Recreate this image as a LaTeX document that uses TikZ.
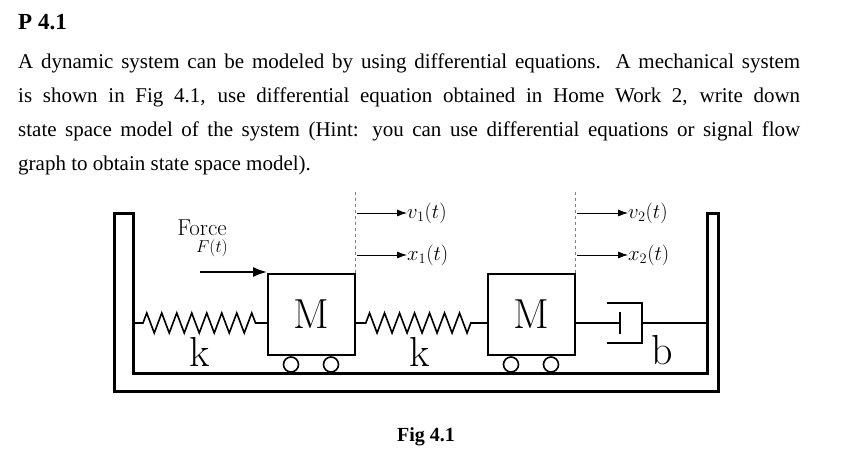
\documentclass[tikz,border=0pt]{standalone}
\usepackage{fontspec}
\setmainfont{Liberation Serif}
\newfontfamily\cm{Latin Modern Roman}
\usetikzlibrary{decorations.pathmorphing,arrows.meta}
\begin{document}
\begin{tikzpicture}[x=1pt,y=-1pt,
  wall/.style={line width=3pt},
  thin/.style={line width=1.6pt},
  txtline/.style={anchor=west,inner sep=0pt,text width=782pt,align=justify,font=\fontsize{21}{24}\selectfont},
  springy/.style={thin,decorate,decoration={zigzag,segment length=15pt,amplitude=10pt,pre length=10pt,post length=10pt}},
  varr/.style={-{Latex[length=10pt,width=7pt]},line width=0.8pt},
  lab/.style={font=\cm\fontsize{21}{21}\selectfont,anchor=west,inner sep=0pt},
  big/.style={font=\cm\fontsize{42}{42}\selectfont}]
\useasboundingbox (0,0) rectangle (862,452);
\node[anchor=west,inner sep=0pt,font=\bfseries\fontsize{23}{24}\selectfont] (title) at (18,22) {P 4.1};
\node[txtline] (l1) at (18,63) {\parfillskip=0pt A dynamic system can be modeled by using differential equations. A mechanical system\par};
\node[txtline] (l2) at (18,97) {\parfillskip=0pt is shown in Fig 4.1, use differential equation obtained in Home Work 2, write down\par};
\node[txtline] (l3) at (18,131) {\parfillskip=0pt state space model of the system (Hint: you can use differential equations or signal flow\par};
\node[anchor=west,inner sep=0pt,font=\fontsize{21}{24}\selectfont] (l4) at (18,165) {graph to obtain state space model).};
% container
\draw[wall] (114,213) -- (114,391) -- (718,391) -- (718,213) -- (707,213) -- (707,373) -- (133,373) -- (133,213) -- cycle;
% masses
\node[draw,thin,minimum width=87pt,minimum height=81pt,inner sep=0pt,big] (m1) at (311.5,314.5) {M};
\node[draw,thin,minimum width=87pt,minimum height=81pt,inner sep=0pt,big] (m2) at (531.5,314.5) {M};
\foreach \c in {291,331,511,551}
  \draw[thin] (\c,364.5) circle (7.5pt);
\coordinate (lw) at (133,323);
\coordinate (rw) at (707,323);
\draw[springy] (lw) -- (m1.west |- lw);
\draw[springy] (m1.east |- lw) -- (m2.west |- lw);
\node[big] (k1) at (200,352) {k};
\node[big] (k2) at (420,352) {k};
% damper
\coordinate (d1) at (620,323);
\draw[thin] (m2.east |- lw) -- (d1);
\draw[thin] (620,312) -- (620,334);
\draw[thin] (607,303) -- (642,303) -- (642,343) -- (607,343);
\draw[thin] (642,323) -- (rw);
\node[big] (b) at (662,350) {b};
% dashed lines
\draw[dashed,line width=0.8pt,gray] (m1.north east) -- ++(0,-82);
\draw[dashed,line width=0.8pt,gray] (m2.north east) -- ++(0,-82);
\node[lab] (v1) at (407,213) {$v_1(t)$};
\node[lab] (x1) at (407,255) {$x_1(t)$};
\node[lab] (v2) at (628,213) {$v_2(t)$};
\node[lab] (x2) at (628,255) {$x_2(t)$};
\draw[varr] (357,213) -- (v1.west);
\draw[varr] (357,255) -- (x1.west);
\draw[varr] (577,213) -- (v2.west);
\draw[varr] (577,255) -- (x2.west);
% force
\node[font=\cm\fontsize{23}{23}\selectfont] (force) at (202,228) {Force};
\node[font=\cm\fontsize{19}{19}\selectfont] (Ft) at (212,248) {$F(t)$};
\coordinate (fs) at (200,272);
\draw[-{Latex[length=14pt,width=10pt]},line width=2.2pt] (fs) -- (m1.north west |- fs);
\node[font=\bfseries\fontsize{20}{20}\selectfont] (fig) at (426,437) {Fig 4.1};
\end{tikzpicture}
\end{document}
